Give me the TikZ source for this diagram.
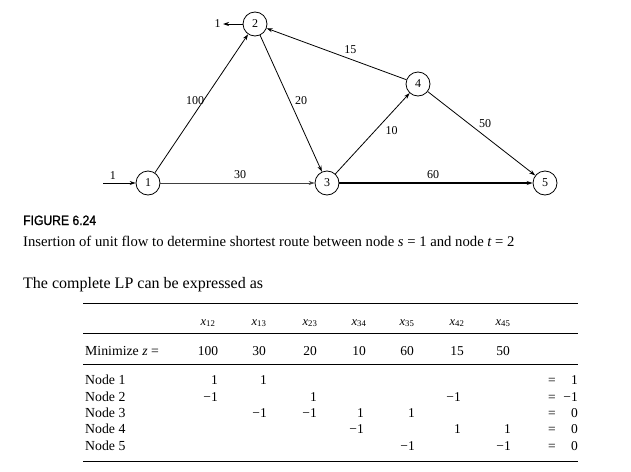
\documentclass[tikz,border=0pt]{standalone}
\usepackage{fontspec}
\setmainfont{Liberation Serif}
\newfontfamily\itfont{Liberation Serif Italic}
\newfontfamily\capsans{Liberation Sans}[FakeStretch=0.9,FakeBold=1.2]
\usetikzlibrary{arrows.meta}
\newcommand{\vx}[1]{{\itfont x}\textsubscript{#1}}
\begin{document}
\begin{tikzpicture}[x=1pt,y=-1pt,
  vertex/.style={circle,draw,line width=0.8pt,minimum size=24pt,inner sep=0pt,font=\fontsize{12}{12}\selectfont},
  edge/.style={line width=0.8pt,-{Stealth[length=6pt,width=4pt]}},
  elabel/.style={font=\fontsize{12}{12}\selectfont,inner sep=0pt},
  cell/.style={anchor=base east,inner sep=0pt,font=\fontsize{13.5}{14}\selectfont},
  ccell/.style={anchor=base,inner sep=0pt,font=\fontsize{13.5}{14}\selectfont},
  hcell/.style={anchor=base,inner sep=0pt,font=\fontsize{12.5}{13}\selectfont},
  lcell/.style={anchor=base west,inner sep=0pt,font=\fontsize{13.8}{14}\selectfont},
  rule/.style={line width=1pt}]
\useasboundingbox (0,0) rectangle (631,471);
% graph
\node[vertex] (n1) at (148,183) {1};
\node[vertex] (n2) at (255,24) {2};
\node[vertex] (n3) at (327,183) {3};
\node[vertex] (n4) at (418,84) {4};
\node[vertex] (n5) at (545,183) {5};
\coordinate (in) at (103,183);
\coordinate (out) at (223,24);
\draw[edge] (in) -- node[elabel,pos=0.3,yshift=7pt]{1} (n1);
\draw[edge] (n2) -- (out) node[elabel,anchor=east,xshift=-2pt]{1};
\draw[edge] (n1) -- node[elabel,pos=0.5,xshift=-6.5pt,yshift=2.5pt]{100} (n2);
\draw[edge] (n2) -- node[elabel,pos=0.5,xshift=10pt,yshift=2.5pt]{20} (n3);
\draw[edge] (n4) -- node[elabel,pos=0.4,yshift=10pt]{15} (n2);
\draw[edge,line width=0.6pt,draw=black!75] (n1) -- node[elabel,pos=0.5,xshift=2.5pt,yshift=8pt,text=black]{30} (n3);
\draw[edge] (n3) -- node[elabel,pos=0.5,xshift=19pt,yshift=2.5pt]{10} (n4);
\draw[edge] (n4) -- node[elabel,pos=0.5,xshift=3.5pt,yshift=9.5pt]{50} (n5);
\draw[edge,line width=1.3pt] (n3) -- node[elabel,pos=0.5,xshift=-3pt,yshift=8pt]{60} (n5);
% caption
\node[anchor=base west,inner sep=0pt,font=\capsans\fontsize{13.5}{14}\selectfont] (fig) at (23,225) {FIGURE 6.24};
\node[anchor=base west,inner sep=0pt,font=\fontsize{14.7}{15}\selectfont] (cap) at (23,246) {Insertion of unit flow to determine shortest route between node {\itfont s} = 1 and node {\itfont t} = 2};
\node[anchor=base west,inner sep=0pt,font=\fontsize{16}{17}\selectfont] (intro) at (23,288) {The complete LP can be expressed as};
% table rules
\draw[rule] (83,303) -- (578,303);
\draw[line width=0.8pt] (83,333) -- (578,333);
\draw[line width=0.8pt] (83,364) -- (578,364);
\draw[rule] (83,461) -- (578,461);
% header
\node[hcell] (h1) at (208,325) {\vx{12}};
\node[hcell] (h2) at (259,325) {\vx{13}};
\node[hcell] (h3) at (310,325) {\vx{23}};
\node[hcell] (h4) at (359,325) {\vx{34}};
\node[hcell] (h5) at (407,325) {\vx{35}};
\node[hcell] (h6) at (457,325) {\vx{42}};
\node[hcell] (h7) at (503,325) {\vx{45}};
% objective
\node[lcell] (min) at (85,355) {Minimize {\itfont z} =};
\node[ccell] (o1) at (208,355) {100};
\node[ccell] (o2) at (259,355) {30};
\node[ccell] (o3) at (310,355) {20};
\node[ccell] (o4) at (359,355) {10};
\node[ccell] (o5) at (407,355) {60};
\node[ccell] (o6) at (457,355) {15};
\node[ccell] (o7) at (503,355) {50};
% rows
\node[lcell] (r1) at (85,384) {Node 1};
\node[lcell] (r2) at (85,401) {Node 2};
\node[lcell] (r3) at (85,417) {Node 3};
\node[lcell] (r4) at (85,433) {Node 4};
\node[lcell] (r5) at (85,450) {Node 5};
% row 1
\node[cell] (a11) at (218,384) {1};
\node[cell] (a12) at (267,384) {1};
% row 2
\node[cell] (a21) at (218,401) {−1};
\node[cell] (a23) at (317,401) {1};
\node[cell] (a26) at (461,401) {−1};
% row 3
\node[cell] (a32) at (267,417) {−1};
\node[cell] (a33) at (317,417) {−1};
\node[cell] (a34) at (364,417) {1};
\node[cell] (a35) at (415,417) {1};
% row 4
\node[cell] (a44) at (364,433) {−1};
\node[cell] (a46) at (461,433) {1};
\node[cell] (a47) at (511,433) {1};
% row 5
\node[cell] (a55) at (415,450) {−1};
\node[cell] (a57) at (511,450) {−1};
% rhs
\foreach \y/\v [count=\i] in {384/1,401/−1,417/0,433/0,450/0}{
  \node[ccell] (eq\i) at (552,\y) {=};
  \node[cell] (b\i) at (578,\y) {\v};
}
\end{tikzpicture}
\end{document}
